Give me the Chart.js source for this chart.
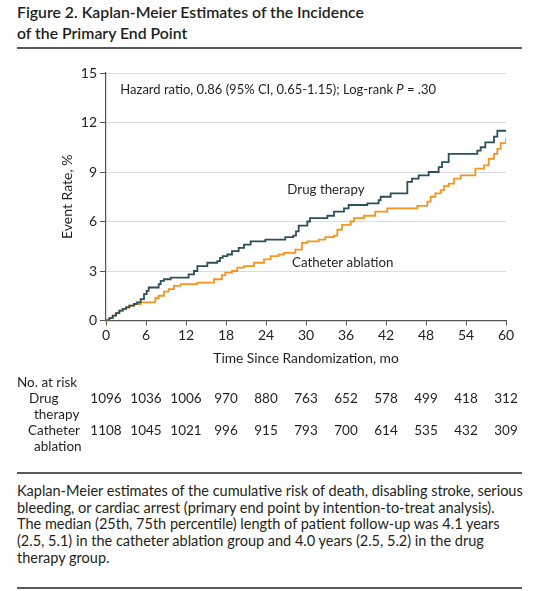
<!DOCTYPE html>
<html lang="en">

<head>
  <meta charset="UTF-8">
  <meta name="viewport" content="width=device-width, initial-scale=1.0">
  <style>
    body { margin: 0; width: 554px; height: 591px; background: #fff; position: relative; overflow: hidden;
           font-family: Lato, sans-serif; color: #231f20; }
    .titulo { position: absolute; left: 17px; top: 1px; font-size: 15.8px; font-weight: 600; line-height: 21.3px; white-space: nowrap; }
    .regra { position: absolute; left: 17px; width: 505px; background: #5a5a5a; }
    .grafico { position: absolute; left: 0; top: 0; width: 554px; height: 462px; }
    .legenda { position: absolute; left: 17px; top: 483px; font-size: 14.5px; line-height: 16.7px; white-space: nowrap; }
  </style>
</head>

<body>
  <div class="titulo">Figure 2. Kaplan-Meier Estimates of the Incidence<br>of the Primary End Point</div>
  <div class="regra" style="top:47px;height:2px"></div>

  <div class="grafico"><canvas id="kmChart"></canvas></div>

  <div class="regra" style="top:472px;height:1.5px"></div>
  <div class="legenda">Kaplan-Meier estimates of the cumulative risk of death, disabling stroke, serious<br>bleeding, or cardiac arrest (primary end point by intention-to-treat analysis).<br>The median (25th, 75th percentile) length of patient follow-up was 4.1 years<br>(2.5, 5.1) in the catheter ablation group and 4.0 years (2.5, 5.2) in the drug<br>therapy group.</div>
  <div class="regra" style="top:587px;height:1.5px"></div>

<script src="https://cdn.jsdelivr.net/npm/chart.js"></script>
<script>
  // Curvas de Kaplan-Meier (mês do evento, taxa acumulada em %)
  const drugMonths = [0, 0.5, 1, 1.5, 2, 2.5, 3, 3.5, 4.2, 4.6, 5.2, 5.7, 6.1, 6.4, 7.9, 8.2, 8.7, 9.7, 12.4, 13.2,
    13.7, 15.2, 16.7, 17.1, 17.5, 18.2, 18.9, 19.9, 20.7, 21.7, 23.9, 26.9, 28.1, 28.5, 28.9, 30.2, 30.6, 33.2,
    34.2, 35.7, 36.4, 39.2, 40.9, 41.2, 42.7, 45.2, 45.9, 46.9, 48.4, 49.9, 50.4, 51.4, 55.7, 56.2, 56.9, 58.2,
    58.7, 60];
  const drugRates = [0, 0.15, 0.3, 0.45, 0.6, 0.7, 0.8, 0.9, 1.0, 1.1, 1.3, 1.6, 1.8, 2.0, 2.2, 2.4, 2.5, 2.6, 2.8, 3.0,
    3.3, 3.5, 3.6, 3.8, 3.9, 4.0, 4.2, 4.4, 4.6, 4.8, 4.9, 5.05, 5.15, 5.4, 5.75, 6.0, 6.2, 6.35,
    6.6, 6.8, 7.0, 7.1, 7.3, 7.5, 7.7, 8.4, 8.6, 8.8, 9.0, 9.3, 9.6, 10.1, 10.3, 10.5, 10.8, 11.15,
    11.5, 11.5];

  const cathMonths = [0, 0.5, 1, 1.5, 2, 2.5, 3, 3.5, 4.2, 5.2, 7.4, 7.9, 8.7, 9.4, 10.2, 11.2, 13.7, 16.2, 17.4, 17.9,
    18.9, 19.7, 20.7, 22.2, 23.7, 24.7, 25.9, 26.7, 28.4, 29.4, 30.2, 31.9, 32.9, 34.2, 34.7, 35.4, 36.7, 37.2,
    38.7, 40.4, 42.2, 46.7, 48.2, 48.7, 49.4, 50.2, 50.7, 51.4, 52.2, 53.2, 55.4, 56.7, 57.4, 58.2, 58.7, 59.2, 60];
  const cathRates = [0, 0.15, 0.3, 0.45, 0.6, 0.7, 0.8, 0.9, 1.0, 1.1, 1.35, 1.5, 1.75, 1.9, 2.1, 2.2, 2.3, 2.5, 2.75, 2.9,
    3.0, 3.2, 3.3, 3.5, 3.7, 3.9, 4.0, 4.1, 4.3, 4.7, 4.8, 4.9, 5.05, 5.15, 5.5, 5.8, 6.0, 6.2,
    6.35, 6.6, 6.8, 6.95, 7.2, 7.5, 7.7, 7.9, 8.15, 8.3, 8.6, 8.8, 9.2, 9.4, 9.8, 10.1, 10.4, 10.75, 11.05];

  // Número em risco
  const riskMonths = [0, 6, 12, 18, 24, 30, 36, 42, 48, 54, 60];
  const drugAtRisk = [1096, 1036, 1006, 970, 880, 763, 652, 578, 499, 418, 312];
  const cathAtRisk = [1108, 1045, 1021, 996, 915, 793, 700, 614, 535, 432, 309];

  const yTicks = [0, 3, 6, 9, 12, 15];

  const drugColor = '#2c4f58';
  const cathColor = '#f7941d';
  const textColor = '#231f20';
  const axisColor = '#555';
  const gridColor = '#dcdcdc';
  const fontFamily = 'Lato, sans-serif';

  const toPoints = (xs, ys) => xs.map((m, i) => ({ x: m, y: ys[i] }));

  // textos dentro do gráfico e tabela de número em risco
  const textosPlugin = {
    id: 'textos',
    afterDraw(chart) {
      const { ctx, scales: { x, y } } = chart;
      ctx.save();
      ctx.fillStyle = textColor;
      ctx.textBaseline = 'middle';
      ctx.textAlign = 'left';

      let hx = x.getPixelForValue(2.15);
      const hy = y.getPixelForValue(14.0);
      const partes = [['Hazard ratio, 0.86 (95% CI, 0.65-1.15); Log-rank ', 'normal'], ['P', 'italic'], [' = .30', 'normal']];
      partes.forEach(([t, estilo]) => {
        ctx.font = `${estilo} 13px ${fontFamily}`;
        ctx.fillText(t, hx, hy);
        hx += ctx.measureText(t).width;
      });

      ctx.font = `13.3px ${fontFamily}`;
      ctx.fillText('Drug therapy', x.getPixelForValue(27.2), y.getPixelForValue(7.9));
      ctx.fillText('Catheter ablation', x.getPixelForValue(27.9), y.getPixelForValue(3.5));

      // tabela
      ctx.font = `13.5px ${fontFamily}`;
      ctx.fillText('No. at risk', 17, 382.5);
      ctx.fillText('Drug', 29, 399);
      ctx.fillText('therapy', 34, 415);
      ctx.fillText('Catheter', 28, 431);
      ctx.fillText('ablation', 34, 446.5);

      ctx.textAlign = 'center';
      riskMonths.forEach((m, i) => {
        const px = x.getPixelForValue(m);
        ctx.fillText(String(drugAtRisk[i]), px, 399);
        ctx.fillText(String(cathAtRisk[i]), px, 431);
      });
      ctx.restore();
    }
  };

  const ctx = document.getElementById('kmChart');

  new Chart(ctx, {
    type: 'line',
    data: {
      datasets: [
        {
          label: 'Drug therapy',
          data: toPoints(drugMonths, drugRates),
          borderColor: drugColor,
          borderWidth: 1.8,
          stepped: 'before',
          pointRadius: 0,
          fill: false
        },
        {
          label: 'Catheter ablation',
          data: toPoints(cathMonths, cathRates),
          borderColor: cathColor,
          borderWidth: 1.8,
          stepped: 'before',
          pointRadius: 0,
          fill: false
        }
      ]
    },
    options: {
      responsive: true,
      maintainAspectRatio: false,
      animation: false,
      layout: { padding: { left: 50, top: 73, right: 48, bottom: 0 } },
      scales: {
        x: {
          type: 'linear',
          min: 0,
          max: 60,
          afterFit: s => { s.height = 141.5; },
          ticks: { stepSize: 6, color: textColor, padding: 2, font: { family: fontFamily, size: 14 } },
          grid: { drawOnChartArea: false, tickColor: axisColor, tickLength: 5 },
          border: { color: axisColor, width: 1.2 },
          title: {
            display: true,
            text: 'Time Since Randomization, mo',
            color: textColor,
            font: { family: fontFamily, size: 13.8 },
            padding: { top: 0, bottom: 95.5 }
          }
        },
        y: {
          min: 0,
          max: 15,
          afterFit: s => { s.width = 56; },
          afterBuildTicks: s => { s.ticks = yTicks.map(v => ({ value: v })); },
          ticks: { color: textColor, padding: 3, font: { family: fontFamily, size: 14 } },
          grid: { color: gridColor, tickColor: axisColor, tickLength: 6 },
          border: { color: axisColor, width: 1.2 },
          title: {
            display: true,
            text: 'Event Rate, %',
            color: textColor,
            font: { family: fontFamily, size: 14 },
            padding: { top: 9, bottom: 0 }
          }
        }
      },
      plugins: {
        legend: { display: false },
        tooltip: { enabled: false }
      }
    },
    plugins: [textosPlugin]
  });
</script>
</body>

</html>
